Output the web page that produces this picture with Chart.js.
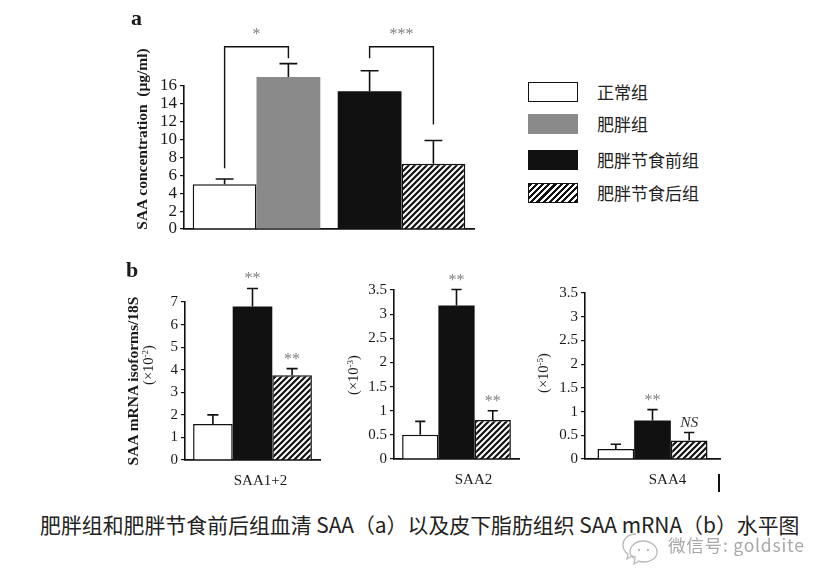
<!DOCTYPE html>
<html>
<head>
<meta charset="utf-8">
<title>SAA</title>
<script src="https://cdn.jsdelivr.net/npm/chart.js@4.4.1/dist/chart.umd.min.js"></script>
<style>
  body { margin: 0; background: #fff; }
  #page { position: relative; width: 839px; height: 583px; overflow: hidden; background: #fff; }
  #page canvas { position: absolute; }
  .txt { position: absolute; white-space: nowrap; color: #1a1a1a; }
  .serif { font-family: "Liberation Serif", "DejaVu Serif", serif; }
  .cjk { font-family: "Noto Sans CJK SC", "Noto Sans", sans-serif; }
  .tag { font-weight: bold; font-size: 22px; line-height: 22px; }
  .vtitle { transform: translate(-50%, -50%) rotate(-90deg); line-height: 1; }
  .key { position: absolute; left: 528px; width: 50px; height: 20px; box-sizing: border-box; }
  .keylabel { position: absolute; left: 597px; font-size: 17px; line-height: 20px; color: #222; }
  sup { font-size: 0.62em; vertical-align: 0.5em; line-height: 0; }
</style>
</head>
<body>
<div id="page">
  <canvas id="serum" width="390" height="245" style="left:100px;top:0px"></canvas>
  <canvas id="saa12" width="220" height="240" style="left:120px;top:250px"></canvas>
  <canvas id="saa2" width="210" height="240" style="left:330px;top:250px"></canvas>
  <canvas id="saa4" width="220" height="240" style="left:520px;top:250px"></canvas>

  <div class="txt serif tag" style="left:131px;top:7px">a</div>
  <div class="txt serif tag" style="left:126px;top:259px">b</div>

  <div class="txt serif vtitle" style="left:142px;top:139px;font-size:15.5px;font-weight:bold">SAA concentration&nbsp;&nbsp;(μg/ml)</div>
  <div class="txt serif vtitle" style="left:133px;top:381px;font-size:15.5px;font-weight:bold">SAA mRNA isoforms/18S</div>
  <div class="txt serif vtitle" style="left:148px;top:365px;font-size:14.5px">(×10<sup>-2</sup>)</div>
  <div class="txt serif vtitle" style="left:353px;top:375px;font-size:14.5px">(×10<sup>-3</sup>)</div>
  <div class="txt serif vtitle" style="left:543px;top:373px;font-size:14.5px">(×10<sup>-5</sup>)</div>

  <div id="legend"></div>

  <div style="position:absolute;left:718px;top:474px;width:1.5px;height:18px;background:#111"></div>

  <div class="txt cjk" style="left:40px;top:511px;font-size:20.9px;line-height:26px;color:#222">肥胖组和肥胖节食前后组血清 SAA（a）以及皮下脂肪组织 SAA mRNA（b）水平图</div>

  <svg style="position:absolute;left:622px;top:528px" width="40" height="40" viewBox="0 0 40 40">
    <g fill="none" stroke="#b8b8b8" stroke-width="1.3">
      <path d="M14 6 C5 6 1 12 1 17 C1 21 3 24 6 26 L5 31 L10 28 C11 28 13 29 14 29" />
      <path d="M21 13 C29 13 35 18 35 24 C35 30 29 34 22 34 C20 34 18 34 17 33 L12 36 L13 31 C10 29 8 27 8 24 C8 18 14 13 21 13 Z" />
      <circle cx="17" cy="22" r="1.2" fill="#b8b8b8" stroke="none"/>
      <circle cx="26" cy="22" r="1.2" fill="#b8b8b8" stroke="none"/>
    </g>
  </svg>
  <div class="txt cjk" style="left:668px;top:534px;font-size:17.5px;line-height:22px;letter-spacing:0.8px;color:#a8a8a8">微信号: goldsite</div>
</div>

<script>
// values
const groupNames = ['正常组', '肥胖组', '肥胖节食前组', '肥胖节食后组'];

// panel a: serum SAA (μg/ml), two bar pairs
const serumPairs = ['正常 / 肥胖', '节食前 / 节食后'];
const serumPairOf = [0, 0, 1, 1];
const serumMean = [5.0, 17.0, 15.4, 7.3];
const serumSem = [0.6, 1.5, 2.3, 2.6];
const serumTicks = [0, 2, 4, 6, 8, 10, 12, 14, 16];
const serumSig = [
  { from: 0, to: 1, label: '*', legs: [6.8, 19.1], top: 20.4 },
  { from: 2, to: 3, label: '***', legs: [19.1, 11.7], top: 20.4 }
];

// panel b: adipose SAA mRNA / 18S
const mrnaGroups = ['正常组', '肥胖节食前组', '肥胖节食后组'];
const saa12Mean = [1.6, 6.8, 3.75];
const saa12Sem = [0.4, 0.8, 0.3];
const saa12Marks = ['', '**', '**'];
const saa12Ticks = [0, 1, 2, 3, 4, 5, 6, 7];

const saa2Mean = [0.5, 3.18, 0.81];
const saa2Sem = [0.28, 0.33, 0.19];
const saa2Marks = ['', '**', '**'];
const saa2Ticks = [0, 0.5, 1, 1.5, 2, 2.5, 3, 3.5];

const saa4Mean = [0.21, 0.81, 0.39];
const saa4Sem = [0.1, 0.23, 0.17];
const saa4Marks = ['', '**', 'NS'];
const saa4Ticks = [0, 0.5, 1, 1.5, 2, 2.5, 3, 3.5];

Chart.defaults.font.family = '"Liberation Serif", "DejaVu Serif", serif';
Chart.defaults.color = '#1a1a1a';

function makeHatch() {
  const c = document.createElement('canvas');
  c.width = c.height = 6;
  const g = c.getContext('2d');
  g.fillStyle = '#fff';
  g.fillRect(0, 0, 6, 6);
  g.strokeStyle = '#111';
  g.lineWidth = 2.2;
  g.beginPath();
  g.moveTo(-2, 2); g.lineTo(2, -2);
  g.moveTo(-1, 7); g.lineTo(7, -1);
  g.moveTo(4, 8); g.lineTo(8, 4);
  g.stroke();
  return g.createPattern(c, 'repeat');
}

const hatch = makeHatch();
const groupFill = ['#ffffff', '#8a8a8a', '#111111', hatch];
const groupBorder = [1.5, 0, 0, 1.5];
const groupCss = ['#fff', '#8a8a8a', '#111',
  'repeating-linear-gradient(135deg, #111 0 2.2px, #fff 2.2px 4.4px)'];

// legend
const legend = document.getElementById('legend');
const keyTops = [82, 114, 150, 183];
groupNames.forEach((name, k) => {
  const box = document.createElement('div');
  box.className = 'key';
  box.style.top = keyTops[k] + 'px';
  box.style.background = groupCss[k];
  if (groupBorder[k]) box.style.border = '1.5px solid #111';
  legend.appendChild(box);
  const t = document.createElement('div');
  t.className = 'keylabel cjk';
  t.style.top = keyTops[k] + 'px';
  t.textContent = name;
  legend.appendChild(t);
});

const errorBars = {
  id: 'errorBars',
  afterDatasetsDraw(chart) {
    const { ctx, scales: { y } } = chart;
    ctx.save();
    ctx.lineWidth = 1.6;
    ctx.strokeStyle = '#111';
    ctx.textAlign = 'center';
    chart.data.datasets.forEach((ds, k) => {
      chart.getDatasetMeta(k).data.forEach((el, i) => {
        if (ds.data[i] == null) return;
        const tip = y.getPixelForValue(ds.data[i] + ds.sem[i]);
        const cap = el.width * 0.14;
        ctx.beginPath();
        ctx.moveTo(el.x, el.y);
        ctx.lineTo(el.x, tip);
        ctx.moveTo(el.x - cap, tip);
        ctx.lineTo(el.x + cap, tip);
        ctx.stroke();
        const mark = ds.marks && ds.marks[i];
        if (mark) {
          ctx.fillStyle = mark === 'NS' ? '#333' : '#808080';
          ctx.font = mark === 'NS' ? 'italic 15.5px "Liberation Serif"' : '16px "Liberation Serif"';
          ctx.fillText(mark, el.x, tip - 5);
        }
      });
    });
    ctx.restore();
  }
};

function bracketPlugin(items) {
  return {
    id: 'brackets',
    afterDatasetsDraw(chart) {
      const { ctx, scales: { y } } = chart;
      const cx = k => chart.getDatasetMeta(k).data[serumPairOf[k]].x;
      ctx.save();
      ctx.lineWidth = 1.4;
      ctx.strokeStyle = '#111';
      ctx.fillStyle = '#808080';
      ctx.font = '16px "Liberation Serif"';
      ctx.textAlign = 'center';
      items.forEach(b => {
        const x0 = cx(b.from), x1 = cx(b.to), top = y.getPixelForValue(b.top);
        ctx.beginPath();
        ctx.moveTo(x0, y.getPixelForValue(b.legs[0]));
        ctx.lineTo(x0, top);
        ctx.lineTo(x1, top);
        ctx.lineTo(x1, y.getPixelForValue(b.legs[1]));
        ctx.stroke();
        ctx.fillText(b.label, (x0 + x1) / 2, top - 8);
      });
      ctx.restore();
    }
  };
}

function yAxis(ticks, size) {
  return {
    min: ticks[0],
    max: ticks[ticks.length - 1],
    afterBuildTicks: s => { s.ticks = ticks.map(value => ({ value })); },
    afterFit: s => { s.width = 40; },
    ticks: { padding: 3, autoSkip: false, font: { size }, callback: v => String(v) },
    grid: { drawOnChartArea: false, drawTicks: true, tickLength: 4, color: '#111', lineWidth: 1.2 },
    border: { color: '#111', width: 1.6 }
  };
}

function bar(ds) {
  return Object.assign({ borderColor: '#111', borderSkipped: 'start', clip: false }, ds);
}

// panel a
new Chart(document.getElementById('serum'), {
  type: 'bar',
  data: {
    labels: serumPairs,
    datasets: groupNames.map((name, k) => bar({
      label: name,
      data: serumPairs.map((_, p) => serumPairOf[k] === p ? serumMean[k] : null),
      sem: serumPairs.map((_, p) => serumPairOf[k] === p ? serumSem[k] : null),
      backgroundColor: groupFill[k],
      borderWidth: groupBorder[k]
    }))
  },
  options: {
    responsive: false,
    animation: false,
    layout: { padding: { left: 44, top: 86, right: 16, bottom: 16 } },
    datasets: { bar: { barPercentage: 1, categoryPercentage: 0.88, skipNull: true } },
    plugins: { legend: { display: false }, tooltip: { enabled: false } },
    scales: {
      x: {
        ticks: { display: false },
        grid: { display: false, drawTicks: false },
        border: { color: '#111', width: 1.8 },
        afterFit: s => { s.height = 0; }
      },
      y: yAxis(serumTicks, 17)
    }
  },
  plugins: [errorBars, bracketPlugin(serumSig)]
});

// panel b
function mrnaChart(id, gene, mean, sem, marks, ticks, pad, xHeight, catPct, labelShift) {
  return new Chart(document.getElementById(id), {
    type: 'bar',
    data: {
      labels: [gene],
      datasets: mrnaGroups.map((name, i) => {
        const k = groupNames.indexOf(name);
        return bar({
          label: name,
          data: [mean[i]],
          sem: [sem[i]],
          marks: [marks[i]],
          backgroundColor: groupFill[k],
          borderWidth: groupBorder[k]
        });
      })
    },
    options: {
      responsive: false,
      animation: false,
      layout: { padding: pad },
      datasets: { bar: { barPercentage: 1, categoryPercentage: catPct } },
      plugins: { legend: { display: false }, tooltip: { enabled: false } },
      scales: {
        x: {
          ticks: { padding: 12, labelOffset: labelShift, font: { size: 15 } },
          grid: { display: false, drawTicks: false },
          border: { color: '#111', width: 1.8 },
          afterFit: s => { s.height = xHeight; }
        },
        y: yAxis(ticks, 15)
      }
    },
    plugins: [errorBars]
  });
}

mrnaChart('saa12', 'SAA1+2', saa12Mean, saa12Sem, saa12Marks, saa12Ticks,
  { left: 25, top: 52, right: 20, bottom: 0 }, 30, 0.88, 8);
mrnaChart('saa2', 'SAA2', saa2Mean, saa2Sem, saa2Marks, saa2Ticks,
  { left: 24, top: 40, right: 21, bottom: 0 }, 31, 0.87, 17);
mrnaChart('saa4', 'SAA4', saa4Mean, saa4Sem, saa4Marks, saa4Ticks,
  { left: 25, top: 43, right: 20, bottom: 0 }, 31, 0.815, 15);
</script>
</body>
</html>
